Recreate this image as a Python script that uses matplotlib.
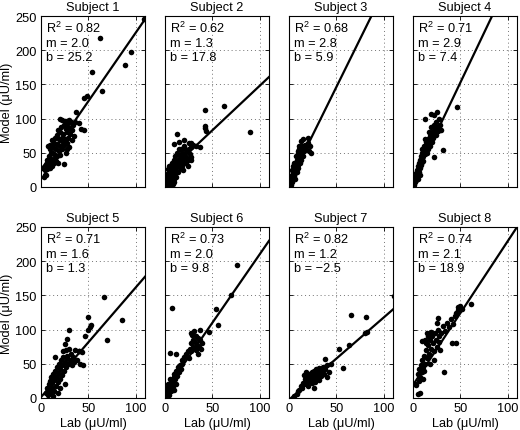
import matplotlib
import numpy as np

matplotlib.use("Agg")
import matplotlib.pyplot as plt  # noqa: E402

plt.rcParams["font.family"] = ["Liberation Sans", "DejaVu Sans"]
plt.rcParams["mathtext.fontset"] = "custom"
plt.rcParams["mathtext.rm"] = "Liberation Sans"
plt.rcParams["mathtext.it"] = "Liberation Sans"

# ----------------------------------------------------------------------------
# Data (lab, model) pairs, one list per subject
# ----------------------------------------------------------------------------
SUBJECTS = ["Subject 1", "Subject 2", "Subject 3", "Subject 4",
            "Subject 5", "Subject 6", "Subject 7", "Subject 8"]
R2 = [0.82, 0.62, 0.68, 0.71, 0.71, 0.73, 0.82, 0.74]
SLOPE = [2.0, 1.3, 2.8, 2.9, 1.6, 2.0, 1.2, 2.1]
INTERCEPT = [25.2, 17.8, 5.9, 7.4, 1.3, 9.8, -2.5, 18.9]

s1_points = [(109, 245), (62, 218), (95, 197), (89, 178), (54, 168), (65, 141),
             (49, 133), (46, 130), (37, 110), (42, 85), (45, 84), (40, 94),
             (24, 34), (3, 15), (4, 18), (5, 17), (20, 100), (22, 98), (25, 97),
             (27, 96), (30, 98), (32, 95), (28, 92), (24, 90), (21, 88), (26, 85),
             (30, 86), (33, 84), (18, 83), (20, 80), (23, 78), (27, 80), (31, 78),
             (35, 75), (17, 76), (15, 72), (19, 70), (22, 72), (25, 70), (29, 72),
             (33, 68), (12, 68), (14, 65), (17, 63), (20, 60), (24, 62), (27, 64),
             (30, 58), (10, 62), (13, 58), (16, 55), (19, 52), (22, 55), (26, 50),
             (9, 55), (11, 50), (14, 48), (17, 45), (20, 47), (8, 45), (10, 42),
             (13, 40), (16, 38), (6, 40), (8, 36), (11, 33), (14, 35), (5, 32),
             (7, 30), (9, 28), (12, 30), (6, 27), (4, 25), (36, 95), (34, 90),
             (28, 55), (15, 42), (18, 35), (23, 66), (7, 60), (1, 28)]
s2_points = [(90, 80), (62, 119), (42, 112), (42, 86), (43, 82), (42, 89), (13, 77),
             (30, 62), (37, 58), (33, 60), (28, 64), (10, 63), (15, 66), (20, 68),
             (25, 65), (1, 5), (2, 8), (3, 4), (2, 12), (4, 10), (3, 15), (5, 6),
             (5, 18), (6, 12), (4, 22), (6, 25), (7, 8), (7, 16), (8, 20), (8, 28),
             (9, 12), (9, 24), (10, 32), (10, 18), (11, 26), (12, 36), (12, 15),
             (13, 30), (14, 22), (14, 40), (15, 34), (16, 28), (16, 45), (17, 38),
             (18, 50), (18, 30), (19, 42), (20, 48), (20, 36), (21, 55), (22, 44),
             (23, 52), (24, 40), (25, 56), (26, 48), (27, 58), (5, 30), (3, 26),
             (7, 35), (9, 40), (11, 45), (13, 50), (15, 55), (17, 56), (20, 60),
             (6, 3), (8, 5), (2, 18), (10, 8), (12, 22), (4, 30), (22, 35), (24, 30),
             (19, 25), (27, 40), (28, 44)]
s3_points = [(20, 72), (13, 67), (15, 70), (20, 65), (22, 60), (21, 52), (23, 50),
             (17, 62), (12, 58), (1, 5), (2, 10), (1, 15), (3, 8), (3, 18), (4, 12),
             (4, 22), (5, 16), (5, 26), (6, 20), (6, 30), (7, 24), (7, 35), (8, 28),
             (8, 40), (9, 32), (9, 45), (10, 38), (10, 50), (11, 42), (11, 55),
             (12, 46), (13, 50), (14, 55), (14, 60), (16, 52), (15, 45), (13, 40),
             (12, 35), (10, 28), (8, 22), (6, 12), (2, 3), (4, 30), (3, 25), (5, 35),
             (7, 45), (9, 52), (11, 60), (16, 58), (18, 55), (19, 62)]
s4_points = [(47, 117), (13, 100), (19, 106), (22, 105), (25, 109), (28, 100),
             (32, 54), (22, 44), (29, 90), (30, 84), (1, 3), (2, 8), (2, 14), (3, 10),
             (3, 20), (4, 15), (4, 25), (5, 18), (5, 30), (6, 22), (6, 35), (7, 28),
             (7, 40), (8, 32), (8, 45), (9, 36), (9, 50), (10, 42), (10, 55), (11, 46),
             (12, 52), (12, 60), (13, 48), (14, 58), (14, 66), (15, 62), (16, 55),
             (16, 70), (17, 65), (18, 60), (18, 75), (19, 70), (20, 80), (21, 72),
             (22, 78), (23, 85), (24, 76), (25, 88), (26, 82), (20, 66), (15, 50),
             (11, 38), (7, 18), (5, 12), (13, 70), (17, 80), (22, 90), (24, 95),
             (19, 88)]
s5_points = [(67, 147), (86, 114), (70, 85), (50, 100), (52, 104), (53, 106),
             (50, 118), (47, 90), (30, 100), (28, 86), (40, 69), (43, 67), (41, 50),
             (5, 8), (6, 15), (7, 5), (8, 20), (8, 12), (9, 25), (10, 8), (10, 18),
             (11, 30), (12, 14), (12, 22), (13, 35), (14, 10), (14, 26), (15, 40),
             (16, 18), (16, 30), (17, 45), (18, 24), (18, 36), (19, 50), (20, 28),
             (20, 42), (21, 55), (22, 34), (22, 48), (23, 60), (24, 40), (25, 52),
             (26, 70), (26, 45), (27, 58), (28, 62), (29, 50), (30, 72), (31, 55),
             (32, 65), (33, 48), (34, 60), (35, 52), (36, 70), (38, 55), (40, 68),
             (44, 48), (15, 60), (23, 69), (25, 79), (25, 20), (20, 15), (13, 3),
             (18, 8)]
s6_points = [(76, 195), (7, 131), (54, 130), (56, 107), (70, 150), (47, 97),
             (37, 100), (5, 66), (12, 64), (27, 95), (29, 92), (31, 98), (33, 90),
             (35, 88), (30, 85), (28, 80), (32, 82), (34, 78), (36, 75), (38, 72),
             (30, 75), (26, 72), (24, 68), (22, 65), (28, 68), (33, 70), (35, 65),
             (20, 60), (25, 58), (18, 55), (37, 85), (39, 80), (1, 5), (2, 10),
             (3, 8), (2, 15), (4, 12), (5, 18), (6, 10), (6, 22), (7, 15), (8, 25),
             (8, 18), (9, 30), (10, 22), (10, 35), (11, 28), (12, 40), (13, 32),
             (14, 45), (15, 38), (16, 48), (17, 42), (12, 20), (9, 12), (5, 28),
             (18, 50), (4, 5), (3, 20)]
s7_points = [(111, 149), (66, 121), (81, 118), (82, 97), (63, 78), (53, 72), (57, 44),
             (38, 57), (26, 15), (80, 95), (15, 22), (17, 28), (18, 20), (19, 30),
             (20, 25), (21, 35), (22, 28), (23, 32), (24, 38), (25, 30), (26, 40),
             (27, 34), (28, 28), (29, 42), (30, 36), (31, 30), (32, 44), (33, 38),
             (34, 32), (35, 40), (36, 46), (37, 35), (38, 42), (40, 48), (42, 38),
             (44, 50), (20, 18), (24, 22), (28, 24), (16, 34), (18, 38), (32, 26),
             (13, 18), (10, 10), (8, 6), (5, 3), (40, 30), (11, 12), (14, 15)]
s8_points = [(61, 137), (48, 133), (50, 135), (52, 130), (26, 117), (25, 110),
             (19, 97), (41, 81), (46, 81), (33, 38), (3, 19), (5, 6), (7, 7), (2, 20),
             (5, 35), (6, 42), (7, 30), (8, 48), (9, 38), (10, 55), (11, 45), (12, 62),
             (13, 50), (14, 70), (15, 58), (16, 78), (17, 65), (18, 85), (19, 72),
             (20, 90), (21, 80), (22, 68), (23, 95), (24, 85), (25, 75), (26, 100),
             (27, 90), (28, 82), (30, 95), (32, 105), (34, 98), (36, 110), (38, 104),
             (40, 115), (42, 108), (44, 120), (46, 125), (48, 128), (50, 130),
             (13, 85), (15, 95), (10, 84), (12, 40), (8, 28), (18, 50), (22, 55),
             (29, 70), (16, 90), (14, 80), (11, 28), (6, 25)]

POINTS = [s1_points, s2_points, s3_points, s4_points,
          s5_points, s6_points, s7_points, s8_points]

XLIM = (0, 110)
YLIM = (0, 250)
XTICKS = [0, 50, 100]
YTICKS = [0, 50, 100, 150, 200, 250]

# ----------------------------------------------------------------------------
# Plot
# ----------------------------------------------------------------------------
W, H = 520, 431
FS = 9.2
fig = plt.figure(figsize=(W / 100, H / 100), dpi=100)
lefts = [41, 165, 289, 413]
bottoms = [188, 399]  # pixel y of axes bottom (from top)
ax_w, ax_h = 104, 171

for i, name in enumerate(SUBJECTS):
    row, col = divmod(i, 4)
    ax = fig.add_axes([lefts[col] / W, (H - bottoms[row]) / H, ax_w / W, ax_h / H])
    pts = np.array(POINTS[i], dtype=float)
    ax.plot(pts[:, 0], pts[:, 1], "o", color="black", markersize=4.0,
            markeredgewidth=0, clip_on=True)
    xl = np.array(XLIM, dtype=float)
    ax.plot(xl, SLOPE[i] * xl + INTERCEPT[i], color="black", linewidth=1.6)
    ax.set_xlim(*XLIM)
    ax.set_ylim(*YLIM)
    ax.set_xticks(XTICKS)
    ax.set_yticks(YTICKS)
    ax.grid(True, linestyle=(0, (1, 3)), color="0.45", linewidth=0.7)
    ax.tick_params(direction="in", top=True, right=True, length=3, width=0.6,
                   labelsize=FS, pad=3)
    for sp in ax.spines.values():
        sp.set_linewidth(0.8)
    if col != 0:
        ax.set_yticklabels([])
    else:
        ax.set_ylabel("Model (\u03bcU/ml)", fontsize=FS)
        ax.yaxis.set_label_coords(-28 / ax_w, 0.5)
    if row == 0:
        ax.set_xticklabels([])
    else:
        ax.set_xlabel("Lab (\u03bcU/ml)", fontsize=FS, labelpad=2)
    ax.set_title(name, fontsize=FS, pad=4)

    b = INTERCEPT[i]
    b_txt = f"\u2212{abs(b):.1f}" if b < 0 else f"{b:.1f}"
    lines = [f"R$^2$ = {R2[i]:.2f}", f"m = {SLOPE[i]:.1f}", f"b = {b_txt}"]
    for k, t in enumerate(lines):
        ax.text(0.05, 0.905 - 0.082 * k, t, transform=ax.transAxes,
                fontsize=FS, va="baseline", ha="left")

fig.savefig("out.png", dpi=100)
plt.close(fig)
